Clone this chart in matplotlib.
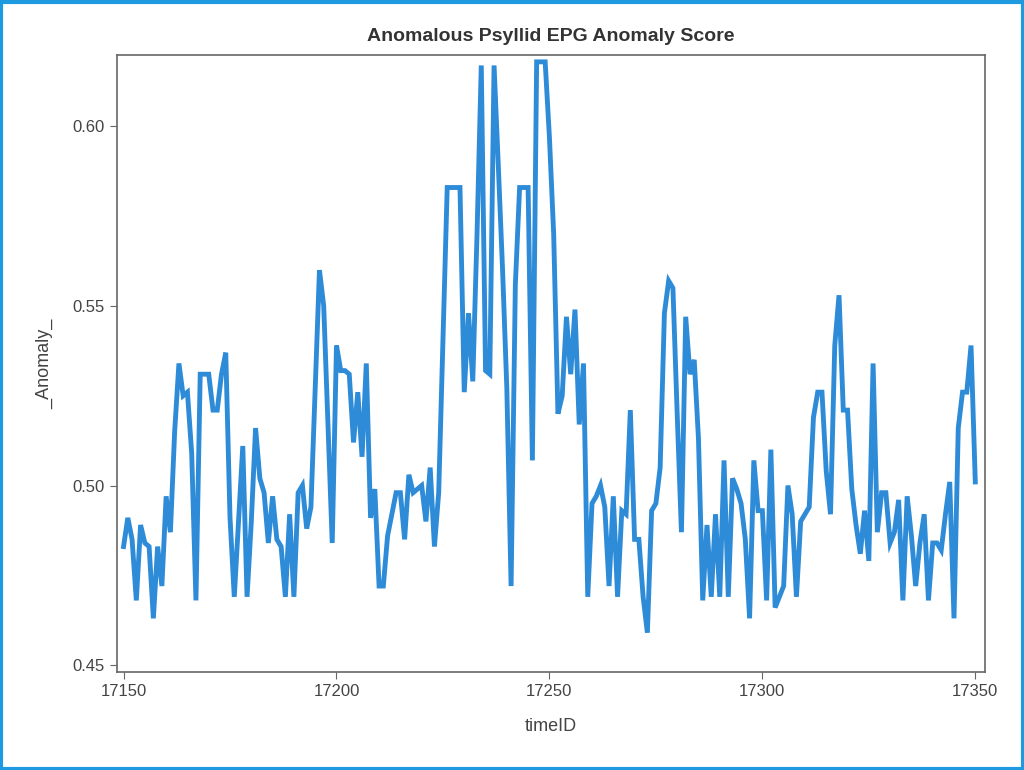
import matplotlib
matplotlib.use("Agg")
import matplotlib.pyplot as plt
from matplotlib.patches import Rectangle

time_id = list(range(17150, 17351))
anomaly = [
 0.483,0.491,0.485,0.468,0.489,0.484,0.483,0.463,0.483,0.472,  # 17150-59
 0.497,0.487,0.515,0.534,0.525,0.526,0.509,0.468,0.531,0.531,  # 17160-69
 0.531,0.521,0.521,0.531,0.537,0.491,0.469,0.490,0.511,0.469,  # 17170-79
 0.490,0.516,0.502,0.498,0.484,0.497,0.485,0.483,0.469,0.492,  # 17180-89
 0.469,0.498,0.500,0.488,0.494,0.527,0.560,0.550,0.517,0.484,  # 17190-99
 0.539,0.532,0.532,0.531,0.512,0.526,0.508,0.534,0.491,0.499,  # 17200-09
 0.472,0.472,0.486,0.492,0.498,0.498,0.485,0.503,0.498,0.499,  # 17210-19
 0.500,0.490,0.505,0.483,0.498,0.540,0.583,0.583,0.583,0.583,  # 17220-29
 0.526,0.548,0.529,0.570,0.617,0.532,0.531,0.617,0.589,0.560,  # 17230-39
 0.527,0.472,0.556,0.583,0.583,0.583,0.507,0.618,0.618,0.618,  # 17240-49
 0.597,0.570,0.520,0.525,0.547,0.531,0.549,0.517,0.534,0.469,  # 17250-59
 0.495,0.497,0.500,0.494,0.472,0.497,0.469,0.493,0.492,0.521,  # 17260-69
 0.485,0.485,0.469,0.459,0.493,0.495,0.505,0.548,0.557,0.555,  # 17270-79
 0.520,0.487,0.547,0.531,0.535,0.513,0.468,0.489,0.469,0.492,  # 17280-89
 0.469,0.507,0.469,0.502,0.499,0.495,0.485,0.463,0.507,0.493,  # 17290-99
 0.493,0.468,0.510,0.466,0.469,0.472,0.500,0.492,0.469,0.490,  # 17300-09
 0.492,0.494,0.519,0.526,0.526,0.504,0.492,0.539,0.553,0.521,  # 17310-19
 0.521,0.499,0.489,0.481,0.493,0.479,0.534,0.487,0.498,0.498,  # 17320-29
 0.484,0.487,0.496,0.468,0.497,0.486,0.472,0.484,0.492,0.468,  # 17330-39
 0.484,0.484,0.482,0.492,0.501,0.463,0.516,0.526,0.526,0.539,  # 17340-49
 0.501,                                                        # 17350
]
x_ticks = [17150, 17200, 17250, 17300, 17350]
y_ticks = [0.45, 0.50, 0.55, 0.60]

plt.rcParams['font.family'] = ['Liberation Sans', 'DejaVu Sans']
fig = plt.figure(figsize=(10.24, 7.70), dpi=100)
fig.patches.append(Rectangle((0.001, 0.001), 0.998, 0.997, transform=fig.transFigure,
                             fill=False, edgecolor='#1e9be0', linewidth=3))
ax = fig.add_axes([0.114, 0.127, 0.848, 0.802])
ax.plot(time_id, anomaly, color='#2e8bd8', linewidth=3.5, solid_joinstyle='miter')
ax.set_xlim(17148.4, 17352.3)
ax.set_ylim(0.448, 0.620)
ax.set_xticks(x_ticks)
ax.set_yticks(y_ticks)
ax.set_yticklabels([f"{v:.2f}" for v in y_ticks])
for s in ax.spines.values():
    s.set_color('#666666')
    s.set_linewidth(1.2)
ax.tick_params(colors='#444444', labelsize=12, length=5, color='#666666')
ax.set_title('Anomalous Psyllid EPG Anomaly Score', fontsize=14, fontweight='bold',
             color='#333333', pad=10)
ax.set_xlabel('timeID', fontsize=13, color='#444444', labelpad=14)
ax.set_ylabel('_Anomaly_', fontsize=13, color='#444444', labelpad=14)
fig.savefig('out.png', dpi=100)
